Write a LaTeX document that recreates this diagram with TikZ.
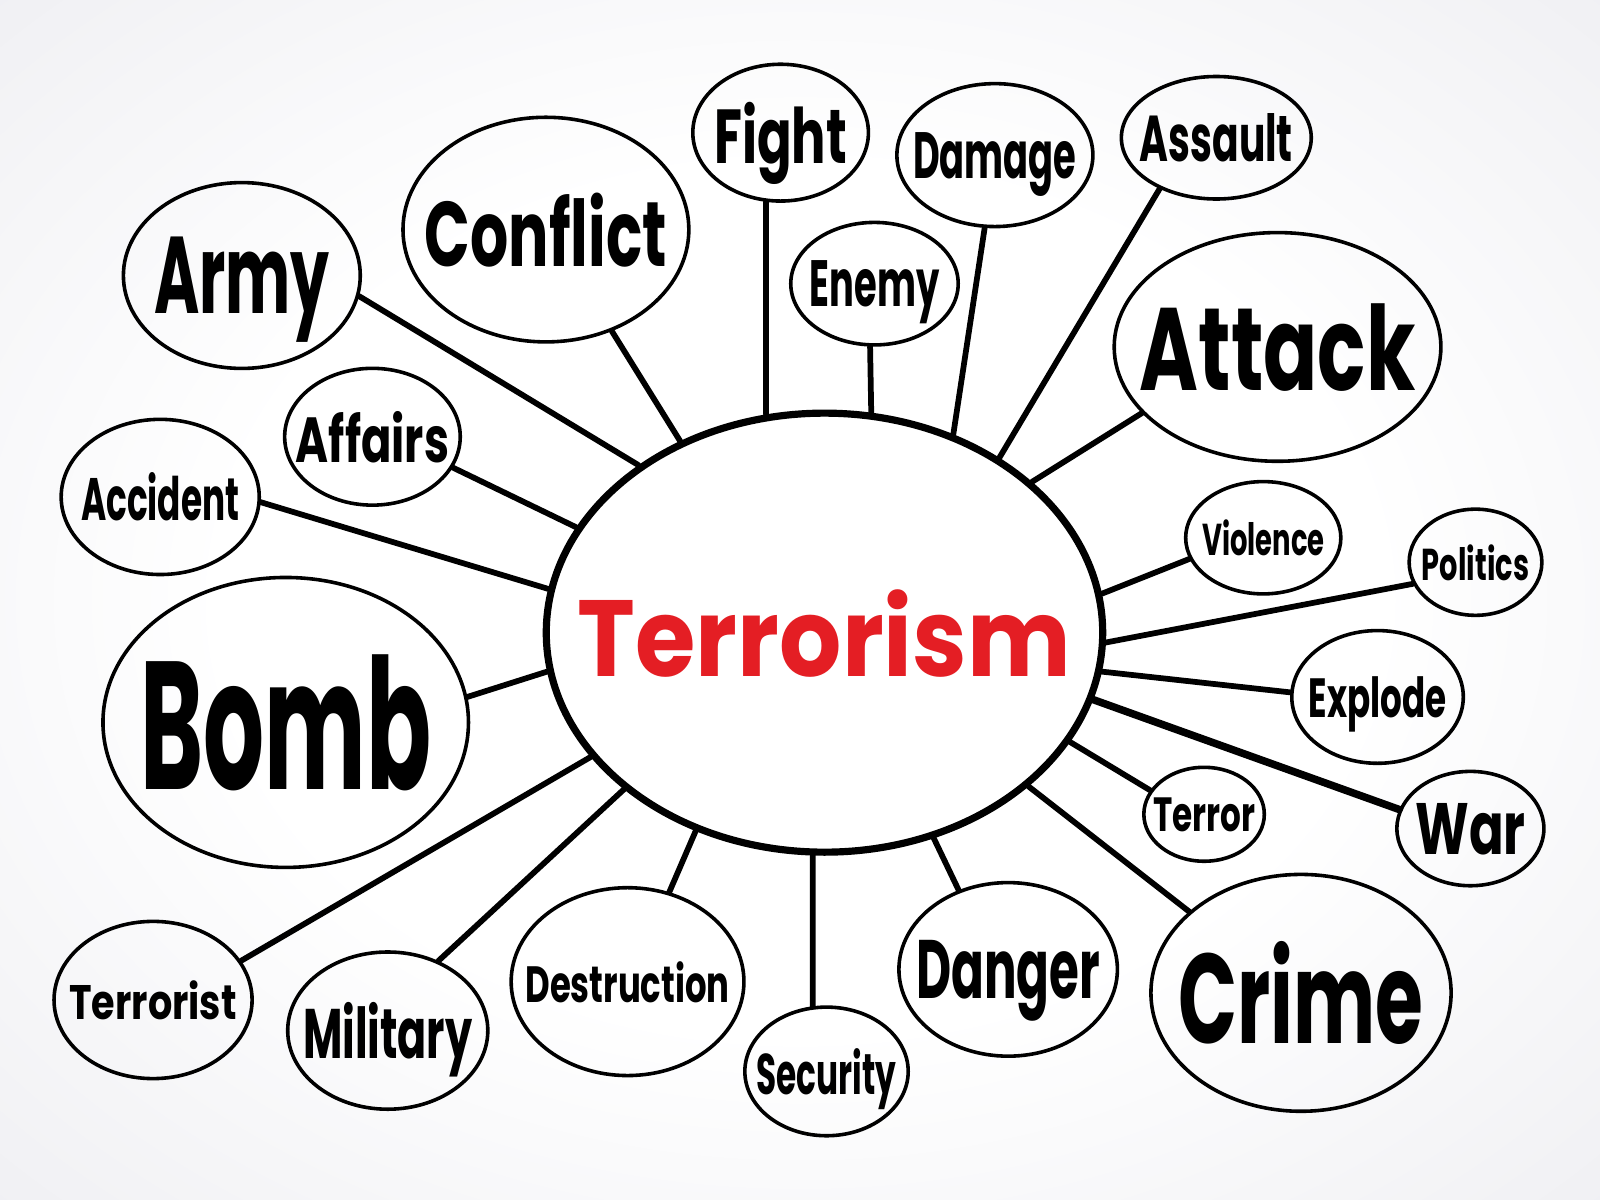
\documentclass[tikz,border=0pt]{standalone}
\usepackage{fontspec}
\setmainfont{Poppins}
\usetikzlibrary{shapes.geometric}
\definecolor{bgout}{RGB}{228,228,234}
\definecolor{tred}{RGB}{228,30,36}
\pgfdeclareradialshading{bgshade}{\pgfpoint{0bp}{0bp}}{color(0bp)=(white); color(18bp)=(white); color(50bp)=(bgout); color(100bp)=(bgout)}
\newcommand\hw[3]{\makebox[0pt]{\smash{\raisebox{-.5\height}{\resizebox{#1}{#2}{\bfseries #3}}}}}
\begin{document}
\begin{tikzpicture}[x=0.01cm,y=-0.01cm,
  bub/.style={draw=black, shape=ellipse, line width=1pt, inner sep=0pt},
  hub/.style={draw=black, shape=ellipse, line width=2pt, inner sep=0pt, fill=white},
  conn/.style={draw=black, line width=1.6pt, line cap=round},
  thick conn/.style={draw=black, line width=2.1pt, line cap=round}]
\shade[shading=bgshade] (0,0) rectangle (1568,1176);
\useasboundingbox (0,0) rectangle (1568,1176);

\node[hub, minimum width=5.45cm, minimum height=4.30cm] (center) at (808,620) {\color{tred}\hw{4.83cm}{0.85cm}{Terrorism}};

\node[bub, minimum width=2.32cm, minimum height=1.82cm] (army) at (237,270) {\hw{1.72cm}{0.75cm}{Army}};
\node[bub, minimum width=2.80cm, minimum height=2.20cm] (conflict) at (535,225) {\hw{2.37cm}{0.72cm}{Conflict}};
\node[bub, minimum width=1.72cm, minimum height=1.34cm] (fight) at (765,130) {\hw{1.30cm}{0.60cm}{Fight}};
\node[bub, minimum width=1.92cm, minimum height=1.40cm] (damage) at (975,152) {\hw{1.60cm}{0.45cm}{Damage}};
\node[bub, minimum width=1.86cm, minimum height=1.20cm] (assault) at (1192,135) {\hw{1.50cm}{0.47cm}{Assault}};
\node[bub, minimum width=1.64cm, minimum height=1.20cm] (enemy) at (857,278) {\hw{1.27cm}{0.45cm}{Enemy}};
\node[bub, minimum width=3.20cm, minimum height=2.24cm] (attack) at (1252,340) {\hw{2.70cm}{0.85cm}{Attack}};
\node[bub, minimum width=1.72cm, minimum height=1.34cm] (affairs) at (365,428) {\hw{1.50cm}{0.50cm}{Affairs}};
\node[bub, minimum width=1.94cm, minimum height=1.52cm] (accident) at (157,487) {\hw{1.55cm}{0.47cm}{Accident}};
\node[bub, minimum width=3.58cm, minimum height=2.84cm] (bomb) at (280,708) {\hw{2.85cm}{1.32cm}{Bomb}};
\node[bub, minimum width=1.52cm, minimum height=1.10cm] (violence) at (1238,527) {\hw{1.20cm}{0.35cm}{Violence}};
\node[bub, minimum width=1.30cm, minimum height=1.04cm] (politics) at (1446,551) {\hw{1.05cm}{0.35cm}{Politics}};
\node[bub, minimum width=1.68cm, minimum height=1.30cm] (explode) at (1350,683) {\hw{1.35cm}{0.40cm}{Explode}};
\node[bub, minimum width=1.18cm, minimum height=0.92cm] (terror) at (1180,798) {\hw{1.00cm}{0.33cm}{Terror}};
\node[bub, minimum width=1.44cm, minimum height=1.12cm] (war) at (1441,812) {\hw{1.08cm}{0.50cm}{War}};
\node[bub, minimum width=1.94cm, minimum height=1.54cm] (terrorist) at (150,980) {\hw{1.64cm}{0.38cm}{Terrorist}};
\node[bub, minimum width=1.96cm, minimum height=1.54cm] (military) at (380,1010) {\hw{1.66cm}{0.55cm}{Military}};
\node[bub, minimum width=2.28cm, minimum height=1.84cm] (destruction) at (615,962) {\hw{2.00cm}{0.40cm}{Destruction}};
\node[bub, minimum width=1.60cm, minimum height=1.26cm] (security) at (810,1050) {\hw{1.37cm}{0.45cm}{Security}};
\node[bub, minimum width=2.14cm, minimum height=1.70cm] (danger) at (988,950) {\hw{1.80cm}{0.57cm}{Danger}};
\node[bub, minimum width=2.94cm, minimum height=2.32cm] (crime) at (1275,973) {\hw{2.40cm}{1.00cm}{Crime}};

\path[conn] (army.-10.5) -- (center.138.7);
\path[conn] (conflict.-57) -- (center.127.3);
\path[conn] (fight.-102.4) -- (center.105.3);
\path[conn] (enemy.-94.8) -- (center.78.4);
\path[conn] (damage.-98.1) -- (center.57.2);
\path[conn] (assault.-138.4) -- (center.45.5);
\path[conn] (attack.-154.6) -- (center.36.7);
\path[conn] (affairs.-21.8) -- (center.157.6);
\path[conn] (accident.-3.5) -- (center.171.9);
\path[conn] (bomb.8) -- (center.188);
\path[conn] (violence.-164) -- (center.8.8);
\path[conn] (politics.-161.6) -- (center.-2.1);
\path[conn] (explode.177.9) -- (center.-8);
\path[thick conn] (war.165.6) -- (center.-14.7);
\path[conn] (terror.156.5) -- (center.-24.8);
\path[conn] (crime.144) -- (center.-37);
\path[conn] (danger.122) -- (center.-62.1);
\path[conn] (security.102.2) -- (center.-93.9);
\path[conn] (destruction.65.8) -- (center.-123.9);
\path[conn] (military.54.5) -- (center.-142.1);
\path[conn] (terrorist.24.4) -- (center.-152.5);
\end{tikzpicture}
\end{document}
